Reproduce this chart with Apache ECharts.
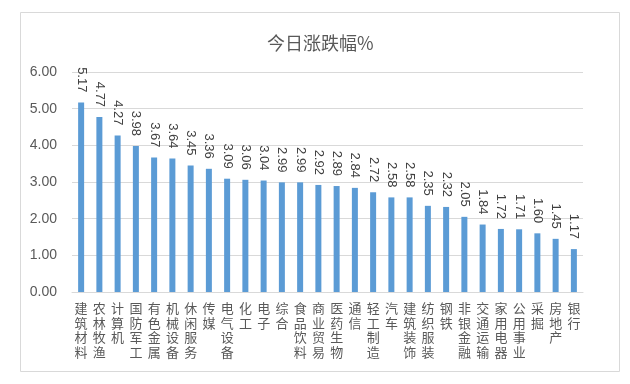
<!DOCTYPE html>
<html>
<head>
<meta charset="utf-8">
<script src="https://cdn.jsdelivr.net/npm/echarts@6/dist/echarts.min.js"></script>
<style>html,body{margin:0;padding:0;background:#fff;}#c{width:630px;height:384px;}</style>
</head>
<body>
<div id="c"></div>
<script>
const categories = ['建筑材料','农林牧渔','计算机','国防军工','有色金属','机械设备','休闲服务','传媒','电气设备','化工','电子','综合','食品饮料','商业贸易','医药生物','通信','轻工制造','汽车','建筑装饰','纺织服装','钢铁','非银金融','交通运输','家用电器','公用事业','采掘','房地产','银行'];
const values = [5.17,4.77,4.27,3.98,3.67,3.64,3.45,3.36,3.09,3.06,3.04,2.99,2.99,2.92,2.89,2.84,2.72,2.58,2.58,2.35,2.32,2.05,1.84,1.72,1.71,1.60,1.45,1.17];
const yTicks = [0,1,2,3,4,5,6];
const titleText = '今日涨跌幅%';

const chart = echarts.init(document.getElementById('c'), null, {renderer:'canvas'});
chart.setOption({
  animation:false,
  backgroundColor:'#fff',
  title:{text:titleText,left:262,top:29,textStyle:{fontFamily:'Noto Sans CJK SC',fontSize:18,fontWeight:'normal',color:'#595959'}},
  graphic:[{type:'rect',shape:{x:20.5,y:12.5,width:599,height:359},style:{fill:'none',stroke:'#D9D9D9',lineWidth:1},silent:true}],
  grid:{left:72,right:47,top:72,bottom:92},
  xAxis:{type:'category',data:categories,
    axisLine:{show:true,lineStyle:{color:'#D9D9D9'}},axisTick:{show:false},
    axisLabel:{interval:0,margin:9,color:'#595959',fontFamily:'Noto Sans CJK SC',fontSize:13,lineHeight:14.5,verticalAlign:'top',
      formatter:v=>v.split('').join('\n')}},
  yAxis:{type:'value',min:yTicks[0],max:yTicks[yTicks.length-1],interval:1,
    axisLine:{show:false},axisTick:{show:false},
    splitLine:{lineStyle:{color:'#D9D9D9'}},
    axisLabel:{margin:15,color:'#595959',fontFamily:'Liberation Sans',fontSize:14,formatter:v=>v.toFixed(2)}},
  series:[{type:'bar',data:values,barWidth:6,itemStyle:{color:'#5B9BD5'},
    label:{show:true,position:'top',rotate:-90,align:'right',verticalAlign:'middle',distance:10,
      color:'#404040',fontFamily:'Liberation Sans',fontSize:13,formatter:p=>p.value.toFixed(2)}}]
});
</script>
</body>
</html>
